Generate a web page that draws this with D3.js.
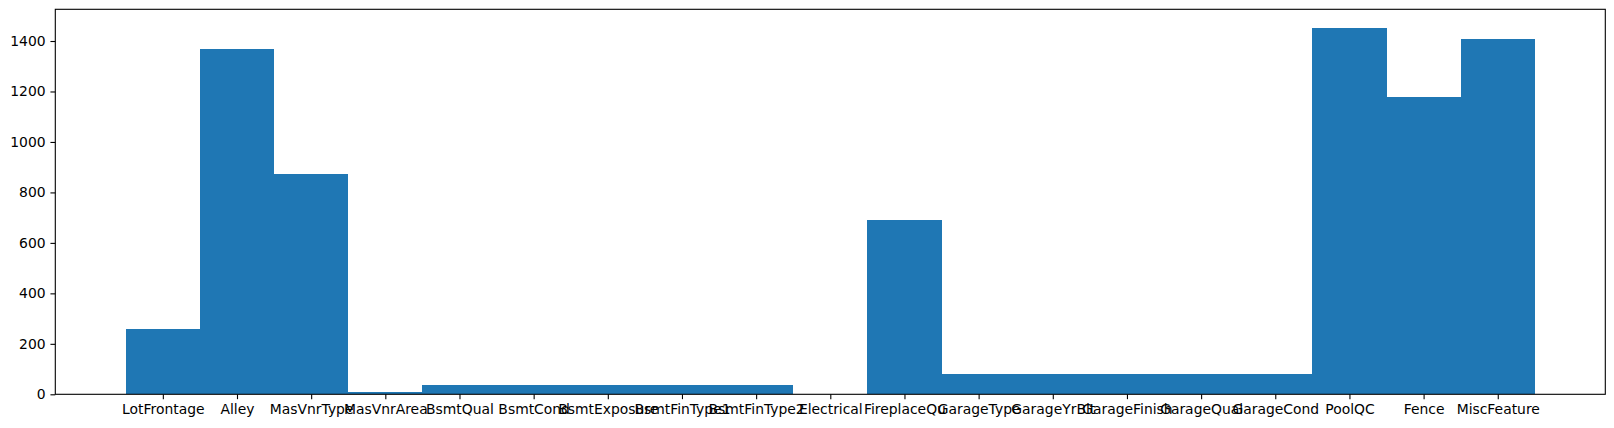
<!DOCTYPE html>
<html lang="en">
<head>
<meta charset="UTF-8">
<title>Missing values per column</title>
<script src="https://cdn.jsdelivr.net/npm/d3@7"></script>
<style>
  body { margin: 0; background: #fff; }
  svg text { font-family: "DejaVu Sans", sans-serif; font-size: 13.9px; fill: #000; }
</style>
</head>
<body>
<div id="chart"></div>
<script>
const columns = ["LotFrontage", "Alley", "MasVnrType", "MasVnrArea", "BsmtQual", "BsmtCond",
  "BsmtExposure", "BsmtFinType1", "BsmtFinType2", "Electrical", "FireplaceQu", "GarageType",
  "GarageYrBlt", "GarageFinish", "GarageQual", "GarageCond", "PoolQC", "Fence", "MiscFeature"];
const missing = [259, 1369, 872, 8, 37, 37, 38, 37, 38, 1, 690, 81, 81, 81, 81, 81, 1453, 1179, 1406];
const yTicks = [0, 200, 400, 600, 800, 1000, 1200, 1400];

let width = 1614;
let height = 428;
let margin = { top: 9.3, right: 8.7, bottom: 33.7, left: 55.3 };

let n = columns.length;
let pad = n * 0.05;
let x = d3.scaleLinear()
    .domain([-0.5 - pad, n - 0.5 + pad])
    .range([margin.left, width - margin.right]);

let yMax = d3.max(missing) * 1.05;
let y = d3.scaleLinear()
    .domain([0, yMax])
    .range([height - margin.bottom, margin.top]);

let svg = d3.select("#chart")
    .append("svg")
    .attr("width", width)
    .attr("height", height);

// bars, width 1 so they touch
svg.append("g")
    .attr("shape-rendering", "crispEdges")
    .selectAll("rect")
    .data(missing)
    .join("rect")
    .attr("x", (d, i) => x(i - 0.5))
    .attr("width", (d, i) => x(i + 0.5) - x(i - 0.5))
    .attr("y", d => y(d))
    .attr("height", d => y(0) - y(d))
    .attr("fill", "#1f77b4");

let xAxis = d3.axisBottom(x)
    .tickValues(d3.range(n))
    .tickFormat(i => columns[i])
    .tickSize(4.86)
    .tickPadding(4.86);

let yAxis = d3.axisLeft(y)
    .tickValues(yTicks)
    .tickFormat(d3.format("d"))
    .tickSize(4.86)
    .tickPadding(4.86);

let gx = svg.append("g")
    .attr("transform", `translate(0, ${height - margin.bottom})`)
    .call(xAxis);

let gy = svg.append("g")
    .attr("transform", `translate(${margin.left}, 0)`)
    .call(yAxis);

[gx, gy].forEach(g => {
    g.attr("font-size", null).attr("font-family", null);
    g.select(".domain").remove();
    g.selectAll(".tick line").attr("stroke", "#000").attr("stroke-width", 1.1);
});

// frame
svg.append("rect")
    .attr("x", margin.left)
    .attr("y", margin.top)
    .attr("width", width - margin.left - margin.right)
    .attr("height", height - margin.top - margin.bottom)
    .attr("fill", "none")
    .attr("stroke", "#000")
    .attr("stroke-width", 1.1);
</script>
</body>
</html>
